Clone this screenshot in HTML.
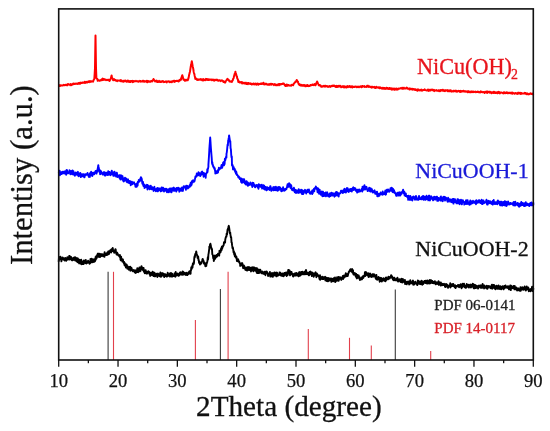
<!DOCTYPE html>
<html><head><meta charset="utf-8"><style>
html,body{margin:0;padding:0;background:#fff;width:550px;height:431px;overflow:hidden}
svg{display:block}
text{font-family:"Liberation Serif","Times New Roman",serif}
.b{stroke-width:0.3}
</style></head><body>
<svg width="550" height="431" viewBox="0 0 550 431">
<rect width="550" height="431" fill="#fff"/>
<g stroke="#3a3a3a" stroke-width="1.1"><line x1="108.1" y1="271.8" x2="108.1" y2="360.0"/><line x1="220.4" y1="289" x2="220.4" y2="360.0"/><line x1="395.3" y1="289.5" x2="395.3" y2="360.0"/></g>
<g stroke="#e2404c" stroke-width="1.1"><line x1="113.5" y1="271.8" x2="113.5" y2="360.0"/><line x1="195.4" y1="320.1" x2="195.4" y2="360.0"/><line x1="228.1" y1="271.8" x2="228.1" y2="360.0"/><line x1="308.3" y1="329.1" x2="308.3" y2="360.0"/><line x1="349.5" y1="337.8" x2="349.5" y2="360.0"/><line x1="371.3" y1="345.5" x2="371.3" y2="360.0"/><line x1="430.7" y1="350.9" x2="430.7" y2="360.0"/></g>
<polyline fill="none" stroke="#ff0000" stroke-width="2.0" stroke-linejoin="round" points="58.7,85.8 59.1,86.0 59.5,85.8 59.9,85.1 60.3,85.9 60.7,85.7 61.1,85.2 61.5,85.6 61.9,85.5 62.3,85.5 62.7,85.3 63.1,85.5 63.5,84.9 63.9,85.1 64.3,84.9 64.7,85.3 65.1,85.1 65.5,84.9 65.6,84.7 65.9,84.9 66.3,84.9 66.7,84.8 67.1,85.4 67.5,85.2 67.9,84.0 68.3,84.0 68.7,84.6 69.1,84.5 69.5,84.7 69.9,84.6 70.3,85.2 70.7,84.0 71.1,84.3 71.5,85.1 71.9,84.6 72.3,84.6 72.7,84.1 73.1,83.6 73.3,84.3 73.5,84.2 73.9,83.6 74.3,83.8 74.7,84.0 75.1,83.6 75.5,83.8 75.9,83.9 76.3,83.8 76.7,83.5 77.1,83.9 77.5,83.9 77.9,83.7 78.3,83.1 78.7,83.7 79.1,83.2 79.5,83.7 79.9,82.8 80.3,83.6 80.7,83.1 80.9,82.6 81.1,82.9 81.5,83.0 81.9,83.1 82.3,82.5 82.7,82.4 83.1,82.8 83.5,82.5 83.9,82.7 84.3,82.9 84.7,81.8 85.1,82.5 85.5,82.9 85.9,82.2 86.3,81.9 86.7,82.5 87.1,82.2 87.5,82.4 87.9,81.9 88.3,81.3 88.5,81.9 88.7,81.7 89.1,82.1 89.5,81.8 89.9,81.0 90.3,81.1 90.7,81.9 91.1,81.8 91.5,81.2 91.9,81.4 92.3,81.5 92.7,81.4 93.1,81.6 93.1,81.3 93.5,80.3 93.9,79.4 94.3,79.0 94.4,78.0 94.7,73.2 95.0,68.0 95.1,61.3 95.5,35.5 95.5,35.5 95.9,61.6 96.0,68.0 96.3,75.6 96.4,78.3 96.7,78.6 97.1,78.8 97.5,79.2 97.7,80.8 97.9,80.1 98.3,80.0 98.7,80.4 99.1,80.3 99.5,80.8 99.9,80.6 100.0,80.6 100.3,80.2 100.7,80.5 101.1,79.7 101.5,80.2 101.9,80.3 102.3,78.9 102.7,78.6 103.0,79.4 103.1,79.9 103.5,78.9 103.9,78.9 104.3,79.8 104.7,79.3 105.1,79.6 105.5,79.7 105.9,80.2 106.0,79.8 106.3,80.1 106.7,80.0 107.1,79.8 107.5,80.0 107.9,79.8 108.3,80.2 108.7,79.8 109.1,79.9 109.5,81.0 109.8,80.4 109.9,80.2 110.3,79.6 110.7,78.6 110.8,78.5 111.1,77.4 111.5,75.8 111.6,75.4 111.9,76.6 112.3,78.0 112.4,78.3 112.7,78.7 113.1,79.4 113.1,80.3 113.5,79.2 113.9,79.9 114.3,79.2 114.7,80.0 115.1,80.4 115.5,80.1 115.9,80.0 116.3,80.5 116.4,80.7 116.7,80.7 117.1,81.2 117.5,80.6 117.9,80.3 118.3,80.5 118.7,80.6 119.1,80.7 119.5,80.7 119.9,80.8 120.3,80.1 120.7,81.2 121.1,80.6 121.5,80.4 121.9,81.2 122.3,81.5 122.7,81.2 123.1,81.1 123.5,80.7 123.5,81.8 123.9,81.5 124.3,80.7 124.7,80.8 125.1,81.2 125.5,80.6 125.9,81.3 126.3,81.0 126.7,81.7 127.1,81.7 127.5,80.6 127.9,81.3 128.3,80.7 128.7,81.8 129.1,81.4 129.5,81.6 129.9,81.0 130.0,82.1 130.3,82.1 130.7,81.0 131.1,81.5 131.5,81.1 131.9,81.4 132.3,80.9 132.7,82.1 133.1,81.0 133.5,81.3 133.9,81.6 134.3,81.1 134.7,81.3 135.1,81.2 135.5,81.3 135.9,80.9 136.3,81.2 136.7,81.3 137.1,81.3 137.5,81.4 137.9,81.3 138.3,81.7 138.7,81.3 139.1,81.3 139.5,81.1 139.9,81.2 140.0,80.9 140.3,81.6 140.7,81.0 141.1,81.1 141.5,81.6 141.9,81.6 142.3,81.3 142.7,80.7 143.1,81.6 143.5,81.6 143.9,80.9 144.3,81.8 144.7,81.2 145.1,81.1 145.5,81.5 145.9,81.4 146.3,81.6 146.7,80.9 147.1,82.3 147.5,81.3 147.9,80.9 148.3,81.8 148.7,81.4 149.1,81.7 149.5,81.5 149.9,81.6 150.0,81.7 150.3,81.2 150.7,81.7 151.1,81.2 151.5,81.0 151.9,81.3 152.2,81.4 152.3,81.0 152.7,80.2 153.1,80.3 153.5,78.9 153.5,79.2 153.9,80.0 154.3,79.9 154.7,80.9 155.0,81.2 155.1,81.6 155.5,80.9 155.9,81.0 156.3,81.5 156.7,80.6 157.1,82.1 157.5,81.2 157.9,81.2 158.3,81.9 158.7,81.6 159.1,80.9 159.5,81.9 159.9,82.0 160.0,81.5 160.3,81.6 160.7,81.9 161.1,81.3 161.5,81.9 161.9,81.8 162.3,81.4 162.7,81.1 163.1,81.6 163.5,81.3 163.9,82.1 164.3,81.7 164.7,82.0 165.1,81.7 165.5,81.8 165.9,81.3 166.3,81.9 166.7,82.4 167.1,81.5 167.5,81.4 167.9,81.6 168.3,81.4 168.7,81.3 169.1,81.7 169.5,81.5 169.9,82.2 170.3,81.6 170.7,81.7 171.1,82.0 171.5,81.5 171.9,82.2 172.0,81.3 172.3,81.3 172.7,81.4 173.1,81.5 173.5,80.9 173.9,81.4 174.3,80.7 174.7,81.9 175.1,81.3 175.5,81.0 175.5,80.9 175.9,81.1 176.3,81.1 176.7,80.7 177.1,80.7 177.5,81.0 177.9,80.8 178.3,81.4 178.7,81.4 179.0,80.9 179.1,81.0 179.5,79.9 179.9,80.4 180.3,79.8 180.7,79.6 181.0,79.8 181.1,78.3 181.5,77.7 181.9,76.3 182.3,75.2 182.3,75.2 182.7,76.6 183.1,78.2 183.5,79.8 183.5,79.6 183.9,79.5 184.3,79.8 184.7,80.6 184.9,80.3 185.1,79.6 185.5,80.6 185.9,80.3 186.3,80.5 186.7,79.9 187.1,80.3 187.5,79.5 187.9,80.1 188.0,79.7 188.3,78.9 188.7,77.3 189.1,74.9 189.5,73.4 189.7,72.6 189.9,72.0 190.3,69.6 190.7,66.8 191.1,65.1 191.5,62.9 191.8,61.2 191.9,61.7 192.3,63.9 192.7,66.5 193.1,68.0 193.5,70.2 193.6,71.4 193.9,72.8 194.3,73.8 194.7,75.9 195.1,77.4 195.3,78.8 195.5,78.3 195.9,79.0 196.3,78.6 196.7,79.1 197.1,79.5 197.1,80.0 197.5,79.8 197.9,79.2 198.3,79.8 198.7,79.9 199.1,79.6 199.5,79.5 199.9,79.6 200.3,79.0 200.7,79.8 201.1,79.8 201.5,79.4 201.9,80.1 202.0,79.3 202.3,79.6 202.7,79.6 203.1,80.5 203.5,79.1 203.9,80.0 204.3,80.1 204.7,79.8 205.1,80.2 205.5,79.3 205.9,78.9 206.3,79.9 206.7,79.1 207.1,79.5 207.5,79.1 207.9,80.0 208.3,79.9 208.7,79.3 209.1,79.9 209.5,79.6 209.9,79.4 210.0,79.5 210.3,79.4 210.7,79.8 211.1,79.7 211.5,79.5 211.9,80.1 212.3,79.5 212.7,79.9 213.1,79.9 213.5,80.4 213.9,79.6 214.3,80.6 214.7,80.0 215.1,79.9 215.5,79.7 215.9,80.3 216.3,80.1 216.7,79.6 217.1,79.7 217.5,79.9 217.9,79.9 218.0,80.6 218.3,80.8 218.7,80.6 219.1,80.4 219.5,80.2 219.9,80.4 220.3,80.7 220.7,81.1 221.1,80.8 221.5,80.4 221.6,80.5 221.9,80.4 222.3,80.5 222.7,80.9 223.1,81.2 223.5,82.0 223.9,81.4 224.3,82.1 224.7,82.4 225.1,81.9 225.2,82.5 225.5,81.8 225.9,80.8 226.3,80.6 226.7,79.9 227.1,79.3 227.4,78.9 227.5,79.2 227.9,79.7 228.3,79.6 228.7,80.4 229.1,80.3 229.5,81.4 229.5,81.5 229.9,81.4 230.3,81.5 230.7,81.7 231.1,81.2 231.5,81.5 231.9,81.8 231.9,82.0 232.3,80.8 232.7,80.5 233.1,78.8 233.5,78.3 233.7,77.9 233.9,76.7 234.3,75.2 234.7,73.9 235.1,72.8 235.4,71.8 235.5,72.2 235.9,73.6 236.3,74.9 236.7,76.5 237.0,76.7 237.1,77.8 237.5,78.9 237.9,79.5 238.3,81.9 238.5,81.2 238.7,81.4 239.1,81.5 239.5,82.5 239.9,81.8 240.3,82.6 240.7,82.6 241.1,82.6 241.5,82.1 241.9,82.5 242.1,83.5 242.3,82.3 242.7,82.5 243.1,82.9 243.5,83.3 243.9,83.1 244.3,83.4 244.7,82.7 245.1,83.6 245.5,83.5 245.9,82.7 246.3,84.0 246.7,84.1 247.1,83.2 247.5,83.6 247.9,84.1 248.0,83.0 248.3,82.9 248.7,83.1 249.1,83.4 249.5,83.5 249.9,84.0 250.3,83.8 250.7,83.3 251.1,84.0 251.5,84.5 251.9,84.3 252.3,84.3 252.7,83.9 253.1,84.3 253.5,83.5 253.9,84.3 254.3,83.9 254.7,84.5 255.1,84.2 255.5,83.6 255.9,84.1 256.3,84.6 256.7,83.7 257.1,83.9 257.5,83.9 257.9,83.6 258.0,84.6 258.3,84.7 258.7,84.4 259.1,84.1 259.5,83.9 259.9,84.0 260.3,83.5 260.7,84.1 261.1,84.1 261.5,84.0 261.9,83.3 262.3,83.5 262.7,83.3 263.1,84.0 263.2,83.4 263.5,82.7 263.9,83.7 264.3,84.4 264.7,84.1 265.1,84.3 265.5,84.1 265.9,83.5 266.0,83.6 266.3,83.8 266.7,84.3 267.1,84.5 267.5,84.7 267.9,84.3 268.3,84.8 268.7,84.3 269.1,84.2 269.5,84.8 269.9,84.1 270.3,83.8 270.7,84.1 271.1,84.6 271.5,83.9 271.9,84.5 272.0,84.5 272.3,84.0 272.7,84.0 273.1,84.4 273.5,84.4 273.9,85.1 274.3,84.7 274.7,84.0 275.1,84.3 275.5,84.9 275.9,85.3 276.3,84.8 276.7,84.7 277.1,85.3 277.5,84.6 277.9,84.5 278.3,84.0 278.7,84.4 279.1,85.3 279.5,84.0 279.9,84.6 280.0,84.0 280.3,84.5 280.7,84.6 281.1,84.0 281.5,84.2 281.9,84.0 282.3,83.7 282.7,84.0 282.8,83.6 283.1,83.4 283.5,83.5 283.9,83.7 284.3,84.5 284.7,84.5 285.1,85.6 285.5,85.9 285.5,85.1 285.9,85.1 286.3,85.9 286.7,84.5 287.1,85.1 287.5,85.6 287.9,84.9 288.3,85.1 288.7,85.1 289.1,85.6 289.5,85.4 289.9,85.5 290.3,85.6 290.7,85.4 291.1,85.8 291.5,85.1 291.9,84.8 292.3,84.7 292.6,84.8 292.7,85.1 293.1,85.2 293.5,84.4 293.9,83.6 294.3,83.0 294.7,82.7 295.1,82.3 295.5,81.8 295.5,81.4 295.9,81.4 296.3,81.5 296.7,80.0 296.7,80.6 297.1,80.5 297.5,81.9 297.9,82.1 298.0,81.8 298.3,83.0 298.7,84.2 299.1,84.1 299.5,85.1 299.9,85.1 300.0,84.6 300.3,85.5 300.7,85.2 301.1,84.8 301.5,85.7 301.9,85.5 302.3,85.2 302.7,85.8 303.1,85.1 303.5,85.7 303.9,85.1 304.3,85.7 304.7,85.1 305.1,86.2 305.5,85.7 305.9,86.2 306.3,85.3 306.7,85.4 307.1,86.0 307.5,85.0 307.9,85.3 308.3,86.1 308.7,85.9 309.1,86.1 309.5,85.7 309.9,86.0 310.0,85.5 310.3,85.2 310.7,85.0 311.1,85.3 311.5,85.2 311.9,85.1 312.3,84.5 312.7,84.4 313.1,84.9 313.5,85.1 313.9,84.6 314.3,84.4 314.7,84.0 315.1,85.3 315.5,84.1 315.5,85.2 315.9,84.5 316.3,83.3 316.7,82.3 317.1,82.0 317.1,81.4 317.5,82.7 317.9,83.2 318.3,84.1 318.7,84.9 318.7,85.2 319.1,84.7 319.5,85.5 319.9,85.1 320.3,85.4 320.7,85.8 321.0,85.9 321.1,86.7 321.5,86.7 321.9,86.8 322.3,86.3 322.7,86.4 323.1,86.1 323.5,85.9 323.9,86.5 324.3,86.5 324.7,85.9 325.1,86.6 325.5,85.7 325.9,86.3 326.3,86.2 326.7,86.2 327.1,86.0 327.5,86.8 327.9,86.7 328.3,86.9 328.7,86.5 329.1,86.0 329.5,86.3 329.9,86.0 330.0,86.7 330.3,86.9 330.7,86.5 331.1,86.1 331.5,86.1 331.9,86.2 332.3,85.5 332.7,86.1 333.1,86.0 333.5,85.6 333.8,85.6 333.9,85.9 334.3,85.6 334.7,85.7 335.1,86.4 335.5,86.3 335.9,87.0 336.3,86.0 336.7,85.8 337.0,87.0 337.1,87.0 337.5,86.3 337.9,86.0 338.3,86.6 338.7,85.9 339.1,86.5 339.5,85.9 339.9,86.5 340.3,85.9 340.7,86.6 341.1,87.3 341.5,86.6 341.9,87.0 342.3,86.4 342.7,86.3 343.1,86.1 343.5,87.1 343.9,86.7 344.3,87.4 344.7,86.2 345.1,86.6 345.5,86.8 345.9,87.3 346.3,87.5 346.7,86.5 347.1,86.3 347.5,86.1 347.9,87.3 348.3,86.7 348.7,86.5 349.1,86.8 349.5,86.1 349.9,86.1 350.3,87.2 350.7,87.0 351.1,86.9 351.5,86.4 351.9,87.1 352.3,87.5 352.7,86.4 353.1,86.9 353.5,86.7 353.9,87.0 354.3,86.9 354.7,86.8 355.0,86.5 355.1,86.9 355.5,86.6 355.9,86.8 356.3,86.8 356.7,87.1 357.1,86.6 357.5,86.7 357.9,87.2 358.3,86.7 358.7,86.6 359.1,87.1 359.5,86.8 359.9,86.7 360.3,86.8 360.7,86.2 361.1,86.8 361.5,87.2 361.9,86.8 362.3,86.0 362.7,86.7 363.1,86.2 363.5,86.5 363.9,86.6 364.3,86.0 364.7,87.0 365.1,86.5 365.5,86.8 365.9,86.7 366.3,87.0 366.7,86.9 367.1,85.8 367.5,86.4 367.9,85.7 368.0,86.2 368.3,86.7 368.7,86.8 369.1,87.0 369.5,86.4 369.9,86.7 370.3,86.7 370.7,87.2 371.1,87.4 371.5,86.7 371.9,87.6 372.3,86.9 372.7,86.8 373.1,87.2 373.5,87.3 373.9,87.3 374.3,86.9 374.7,87.8 375.1,87.2 375.5,87.9 375.9,87.9 376.3,86.8 376.7,87.0 377.1,87.1 377.5,87.6 377.9,87.6 378.3,87.7 378.7,87.3 379.1,87.9 379.5,88.3 379.9,87.2 380.0,87.7 380.3,87.9 380.7,87.8 381.1,87.8 381.5,88.6 381.9,88.5 382.3,88.4 382.7,87.7 383.1,88.8 383.5,88.3 383.9,87.9 384.3,88.1 384.7,88.1 385.1,89.0 385.5,88.4 385.9,88.4 386.3,87.7 386.7,88.7 387.1,88.1 387.5,88.1 387.9,88.8 388.3,88.3 388.7,89.0 389.1,89.1 389.5,88.0 389.9,88.7 390.3,88.2 390.7,88.8 391.1,89.2 391.5,88.4 391.9,89.7 392.3,88.9 392.7,88.5 393.1,89.0 393.5,89.4 393.9,88.6 394.3,89.2 394.5,88.6 394.7,89.7 395.1,89.2 395.5,88.9 395.9,89.5 396.3,88.5 396.7,88.8 397.1,89.7 397.5,88.8 397.9,89.4 398.3,88.9 398.7,88.5 399.1,88.6 399.5,88.7 399.9,88.5 400.3,88.3 400.7,88.3 401.1,87.9 401.5,88.5 401.9,88.6 402.3,88.7 402.7,87.7 403.1,88.7 403.5,88.3 403.9,87.7 404.3,88.3 404.7,88.5 405.1,88.3 405.5,88.4 405.5,88.5 405.9,88.5 406.3,88.2 406.7,87.6 407.1,88.1 407.5,88.6 407.9,88.3 408.3,88.8 408.7,88.9 409.1,88.7 409.5,89.5 409.9,88.4 410.3,89.3 410.7,88.8 411.1,88.7 411.5,89.3 411.9,88.9 412.3,89.6 412.7,88.8 413.1,89.4 413.5,89.1 413.9,89.4 414.3,89.4 414.7,89.2 415.1,89.9 415.5,89.2 415.9,89.4 416.3,90.2 416.4,90.3 416.7,90.2 417.1,90.0 417.5,90.6 417.9,89.4 418.3,89.6 418.7,89.6 419.1,90.3 419.5,90.1 419.9,90.4 420.3,90.4 420.7,89.9 421.1,89.7 421.5,89.6 421.9,90.8 422.3,90.4 422.7,90.3 423.1,89.9 423.5,90.0 423.9,89.9 424.3,90.0 424.7,89.4 425.1,90.1 425.5,90.0 425.9,90.3 426.3,90.2 426.7,90.5 427.1,90.2 427.5,90.5 427.9,89.5 428.3,89.8 428.7,90.9 429.1,89.7 429.5,90.1 429.9,90.5 430.3,89.9 430.7,90.5 431.1,89.7 431.5,89.6 431.9,89.8 432.3,89.6 432.7,90.3 433.1,90.2 433.5,90.5 433.9,89.9 434.3,91.1 434.7,90.3 435.1,90.4 435.5,90.6 435.9,90.3 436.3,90.1 436.7,90.4 437.1,90.8 437.5,90.7 437.9,90.8 438.3,90.2 438.7,90.2 439.1,91.2 439.5,90.4 439.9,90.7 440.0,90.8 440.3,91.1 440.7,90.0 441.1,90.3 441.5,90.4 441.9,90.4 442.3,89.9 442.7,90.6 443.1,89.9 443.5,90.7 443.9,90.9 444.3,90.9 444.7,90.2 445.1,91.1 445.5,90.4 445.9,90.2 446.3,90.3 446.7,90.4 447.1,90.8 447.5,91.1 447.9,90.1 448.3,90.6 448.7,91.2 449.1,90.9 449.5,91.1 449.9,90.3 450.3,91.3 450.7,90.3 451.1,91.0 451.5,91.5 451.9,91.7 452.3,91.2 452.7,91.3 453.1,90.7 453.5,90.8 453.9,91.5 454.3,91.0 454.7,91.0 455.1,90.5 455.5,91.1 455.9,91.4 456.3,90.8 456.7,90.9 457.1,91.8 457.5,91.2 457.9,91.1 458.3,90.7 458.7,91.0 459.1,91.1 459.5,91.8 459.9,91.0 460.3,92.0 460.7,90.9 461.1,91.1 461.5,91.6 461.9,91.2 462.3,91.0 462.7,91.3 463.1,91.5 463.5,90.7 463.9,91.3 464.3,91.4 464.7,91.3 465.1,91.7 465.5,91.2 465.9,91.3 466.3,91.5 466.7,91.8 467.1,91.4 467.5,92.1 467.9,91.2 468.3,92.1 468.7,91.2 469.1,91.5 469.5,91.8 469.9,92.3 470.3,92.0 470.7,91.5 471.1,92.2 471.5,91.6 471.9,91.4 472.3,91.9 472.7,91.8 473.1,92.1 473.5,91.5 473.9,91.9 474.3,92.0 474.7,91.9 475.1,91.8 475.5,91.6 475.9,92.2 476.3,91.9 476.7,92.1 477.1,91.8 477.5,91.9 477.9,91.5 478.3,92.0 478.7,92.3 479.1,92.0 479.5,92.3 479.9,92.1 480.0,92.5 480.3,91.9 480.7,91.4 481.1,92.2 481.5,92.0 481.9,91.7 482.3,92.3 482.7,92.2 483.1,92.3 483.5,92.0 483.9,92.2 484.3,92.2 484.7,92.9 485.1,91.9 485.5,92.2 485.9,92.3 486.3,91.5 486.7,91.6 487.1,93.0 487.5,91.5 487.9,92.5 488.3,91.9 488.7,92.0 489.1,91.6 489.5,92.0 489.9,92.6 490.3,91.8 490.7,92.6 491.1,92.5 491.5,93.1 491.9,92.2 492.3,92.9 492.7,92.8 493.1,92.3 493.5,91.8 493.9,93.1 494.3,91.9 494.7,92.3 495.1,92.9 495.5,93.0 495.9,92.2 496.3,92.5 496.7,92.5 497.1,93.1 497.5,93.3 497.9,91.9 498.3,93.0 498.7,91.9 499.1,92.7 499.5,92.2 499.9,93.4 500.3,92.8 500.7,92.4 501.1,92.5 501.5,92.5 501.9,92.8 502.3,92.7 502.7,93.0 503.1,93.4 503.5,93.1 503.9,92.3 504.3,92.2 504.7,92.5 505.1,93.3 505.5,92.7 505.9,92.6 506.3,92.9 506.7,92.3 507.1,92.5 507.5,93.1 507.9,92.8 508.3,92.8 508.7,93.1 509.1,92.7 509.5,92.7 509.9,92.8 510.3,93.3 510.7,93.1 511.1,92.6 511.5,92.9 511.9,93.3 512.3,93.8 512.7,92.6 513.1,93.3 513.5,93.0 513.9,93.5 514.3,93.3 514.7,93.8 515.1,93.4 515.5,93.0 515.9,93.0 516.3,93.4 516.7,93.4 517.1,94.0 517.5,93.9 517.9,92.8 518.3,93.4 518.7,92.8 519.1,92.7 519.5,93.6 519.9,93.6 520.3,92.9 520.7,94.0 521.1,93.0 521.5,92.9 521.9,93.7 522.3,93.5 522.7,93.4 523.1,93.4 523.5,93.6 523.9,93.4 524.3,93.4 524.7,92.8 525.1,93.0 525.5,93.8 525.9,93.3 526.3,93.8 526.7,94.1 527.1,93.4 527.5,93.7 527.9,94.3 528.3,93.9 528.7,94.4 529.1,94.3 529.5,94.0 529.9,93.6 530.3,93.4 530.7,93.3 531.1,93.9 531.5,93.9 531.9,93.7 532.3,94.1 532.7,93.5 533.1,94.2 533.3,93.8"/>
<polyline fill="none" stroke="#0000ff" stroke-width="1.9" stroke-linejoin="round" points="58.7,173.2 59.0,172.3 59.3,172.4 59.6,170.6 59.9,175.2 60.2,174.4 60.5,172.4 60.8,173.8 61.1,173.2 61.4,172.1 61.7,174.0 62.0,172.3 62.3,172.3 62.6,171.7 62.9,173.3 63.2,172.5 63.5,173.3 63.8,171.8 64.1,172.7 64.4,171.4 64.7,173.6 65.0,172.7 65.0,172.9 65.3,173.0 65.6,171.1 65.9,173.4 66.2,174.7 66.5,170.1 66.8,170.0 67.1,170.2 67.4,173.2 67.7,172.2 68.0,173.4 68.3,172.9 68.6,172.2 68.9,172.3 69.2,171.6 69.5,172.9 69.5,170.3 69.8,171.3 70.1,172.3 70.4,174.4 70.7,171.2 71.0,170.9 71.3,171.6 71.6,173.7 71.9,172.2 72.2,174.4 72.5,170.4 72.8,174.3 73.1,174.3 73.4,171.2 73.7,173.3 74.0,174.8 74.3,173.4 74.6,174.7 74.9,175.8 75.0,173.9 75.2,173.2 75.5,172.6 75.8,174.5 76.1,173.5 76.4,173.6 76.7,173.7 77.0,174.8 77.3,172.6 77.6,172.1 77.9,171.8 78.2,175.8 78.5,174.4 78.8,176.3 79.1,174.4 79.4,173.5 79.7,175.2 80.0,174.5 80.3,173.0 80.6,173.6 80.9,177.1 81.2,175.3 81.5,175.5 81.8,174.7 82.1,174.2 82.4,176.3 82.7,175.1 83.0,174.3 83.3,175.2 83.6,174.2 83.9,175.7 84.0,177.0 84.2,174.4 84.5,177.3 84.8,174.5 85.1,175.5 85.4,174.2 85.7,174.9 86.0,175.2 86.3,174.6 86.6,174.2 86.9,174.1 87.2,173.9 87.5,172.9 87.8,174.5 88.1,175.3 88.4,175.9 88.7,175.6 89.0,177.0 89.3,175.0 89.6,174.0 89.9,176.9 90.0,173.1 90.2,175.7 90.5,173.1 90.8,174.7 91.1,171.8 91.4,175.2 91.7,173.8 92.0,172.6 92.3,176.0 92.6,174.7 92.9,173.7 93.2,172.6 93.5,173.4 93.8,173.1 94.1,174.2 94.4,174.2 94.7,172.2 95.0,172.3 95.3,172.2 95.6,171.0 95.6,172.0 95.9,172.4 96.2,173.1 96.5,173.6 96.8,170.5 97.1,171.8 97.3,170.6 97.4,171.8 97.7,168.7 98.0,167.1 98.3,165.2 98.3,165.2 98.6,167.0 98.9,168.5 99.2,170.7 99.3,169.6 99.5,171.9 99.8,170.4 100.1,174.2 100.4,172.0 100.6,174.0 100.7,170.8 101.0,173.3 101.3,171.8 101.6,172.4 101.9,173.2 102.2,172.9 102.5,173.8 102.8,174.6 103.1,174.6 103.4,173.8 103.7,172.2 104.0,173.1 104.3,174.0 104.6,172.1 104.8,175.5 104.9,174.2 105.2,174.1 105.5,175.5 105.8,175.1 106.1,174.4 106.4,172.7 106.7,174.4 107.0,174.3 107.3,172.6 107.6,175.0 107.9,174.3 108.2,171.2 108.5,173.6 108.6,171.8 108.8,174.9 109.1,174.4 109.4,171.9 109.7,172.1 110.0,173.4 110.3,172.9 110.6,175.2 110.9,174.1 111.2,172.8 111.5,173.8 111.8,170.7 112.1,173.4 112.3,174.1 112.4,172.8 112.7,172.3 113.0,174.1 113.3,175.8 113.6,173.9 113.9,172.3 114.2,175.8 114.5,171.7 114.8,174.8 115.1,173.6 115.4,175.7 115.7,173.5 116.0,176.5 116.3,175.3 116.6,172.8 116.9,172.8 117.2,174.9 117.5,177.1 117.8,175.8 117.8,175.7 118.1,175.5 118.4,176.9 118.7,176.6 119.0,176.7 119.3,175.2 119.6,178.2 119.9,178.6 120.2,175.3 120.5,179.5 120.8,178.3 121.1,176.9 121.4,175.4 121.7,178.8 122.0,178.8 122.3,177.5 122.5,176.1 122.6,179.9 122.9,177.9 123.2,178.2 123.5,181.3 123.8,181.5 124.1,180.6 124.4,179.0 124.7,180.6 125.0,177.6 125.3,180.2 125.6,179.3 125.9,178.8 126.2,178.6 126.5,181.5 126.8,181.1 127.1,181.4 127.1,182.3 127.4,180.3 127.7,179.9 128.0,179.3 128.3,181.4 128.6,182.9 128.9,181.9 129.2,183.1 129.5,180.9 129.8,181.9 130.1,181.7 130.4,181.2 130.7,185.3 131.0,184.3 131.3,182.3 131.6,182.5 131.7,183.4 131.9,181.7 132.2,184.3 132.5,182.1 132.8,183.4 133.1,182.7 133.4,183.5 133.7,182.5 134.0,182.3 134.3,183.2 134.6,183.7 134.9,184.3 135.2,184.9 135.5,186.9 135.5,186.0 135.8,184.5 136.1,185.8 136.4,183.9 136.7,186.7 137.0,185.5 137.3,183.0 137.5,185.7 137.6,185.6 137.9,181.6 138.2,182.4 138.5,182.2 138.8,180.0 139.1,180.4 139.4,180.0 139.5,181.6 139.7,180.8 140.0,181.0 140.3,178.6 140.6,178.3 140.9,177.2 140.9,177.2 141.2,177.8 141.5,178.1 141.8,179.3 142.1,181.6 142.4,183.8 142.5,182.8 142.7,183.1 143.0,182.0 143.3,185.7 143.6,186.1 143.9,184.2 144.2,185.5 144.5,184.9 144.5,188.1 144.8,186.8 145.1,186.3 145.4,187.0 145.7,187.2 146.0,186.2 146.3,185.2 146.6,185.2 146.9,184.7 147.2,187.7 147.5,189.5 147.8,185.1 148.1,187.6 148.4,188.0 148.7,186.3 149.0,187.9 149.3,186.3 149.6,189.4 149.9,187.2 150.0,188.1 150.2,188.9 150.5,187.5 150.8,185.8 151.1,187.5 151.4,189.3 151.7,188.2 152.0,188.7 152.3,187.1 152.6,188.7 152.9,189.5 153.2,188.7 153.5,191.0 153.8,188.5 154.1,187.5 154.4,186.8 154.7,190.4 155.0,188.9 155.3,190.4 155.6,189.7 155.9,191.3 156.2,190.9 156.5,188.8 156.8,189.7 157.1,190.8 157.4,187.9 157.7,191.4 158.0,191.2 158.3,190.9 158.6,189.5 158.9,190.2 159.0,188.3 159.2,189.9 159.5,189.0 159.8,189.9 160.1,189.2 160.4,190.2 160.7,191.4 161.0,188.1 161.3,191.1 161.6,187.5 161.9,187.5 162.2,189.7 162.5,189.9 162.8,190.5 163.1,187.7 163.4,189.8 163.7,190.1 164.0,191.5 164.3,189.8 164.6,190.6 164.9,188.7 165.2,189.7 165.5,189.4 165.8,190.9 166.1,188.7 166.4,188.9 166.7,190.7 167.0,192.3 167.3,190.5 167.6,190.4 167.9,189.5 168.2,191.4 168.5,190.7 168.8,192.3 169.1,190.4 169.4,188.8 169.7,189.3 170.0,188.7 170.3,188.4 170.6,191.7 170.9,191.1 171.2,188.4 171.5,192.4 171.8,190.4 172.1,188.8 172.4,190.6 172.7,190.0 173.0,189.1 173.3,187.8 173.6,190.1 173.6,190.5 173.9,187.7 174.2,190.8 174.5,190.8 174.8,189.4 175.1,190.1 175.4,189.5 175.7,188.8 176.0,189.4 176.3,191.6 176.6,187.9 176.9,190.0 177.2,189.9 177.5,188.7 177.8,189.1 178.1,187.8 178.1,188.5 178.4,189.6 178.7,189.9 179.0,188.2 179.3,191.7 179.6,188.5 179.9,189.4 180.2,188.9 180.5,188.6 180.8,190.7 181.1,188.4 181.4,190.7 181.7,190.3 182.0,187.4 182.3,190.1 182.6,187.8 182.9,191.0 183.2,188.0 183.5,187.3 183.8,186.1 184.1,186.7 184.4,187.5 184.7,186.9 185.0,186.6 185.3,187.2 185.6,187.8 185.9,189.9 186.2,185.7 186.5,187.2 186.8,186.6 187.1,185.8 187.4,186.0 187.7,186.4 187.8,188.5 188.0,187.2 188.3,186.5 188.6,187.8 188.9,187.1 189.2,186.2 189.5,186.8 189.8,185.0 189.9,186.8 190.1,186.2 190.4,184.4 190.7,182.8 191.0,185.7 191.3,183.3 191.6,184.9 191.9,181.1 191.9,183.0 192.2,181.1 192.5,181.8 192.8,182.4 193.1,180.1 193.4,180.8 193.7,180.9 194.0,180.6 194.3,181.1 194.3,181.6 194.6,180.7 194.9,179.4 195.2,177.9 195.5,176.3 195.8,176.2 196.1,175.8 196.4,176.7 196.7,174.7 196.8,173.4 197.0,175.8 197.3,173.9 197.6,173.8 197.9,174.5 198.2,175.3 198.5,172.3 198.8,173.1 199.1,174.8 199.4,174.0 199.7,173.3 200.0,173.7 200.3,176.1 200.6,173.6 200.8,175.1 200.9,175.0 201.2,172.8 201.5,173.3 201.6,171.9 201.8,171.9 202.1,171.5 202.4,174.4 202.7,173.1 203.0,173.2 203.3,172.7 203.6,176.8 203.9,175.8 204.1,174.8 204.2,174.2 204.5,173.3 204.8,175.9 205.1,176.1 205.4,174.1 205.7,177.7 205.7,177.2 206.0,174.0 206.3,173.7 206.6,172.9 206.9,172.8 207.2,171.5 207.3,169.3 207.5,172.2 207.8,168.9 208.1,168.4 208.4,166.6 208.4,164.7 208.7,160.4 209.0,155.8 209.3,150.6 209.3,149.9 209.6,145.5 209.9,141.7 210.2,137.5 210.2,137.5 210.5,141.7 210.8,146.9 211.0,149.3 211.1,150.6 211.4,154.3 211.7,157.9 212.0,163.1 212.3,164.3 212.3,162.2 212.6,165.0 212.9,164.8 213.2,166.9 213.5,166.3 213.8,167.1 214.1,168.1 214.4,168.8 214.7,168.1 215.0,170.3 215.3,172.0 215.3,173.6 215.6,171.4 215.9,171.2 216.2,172.2 216.5,172.0 216.8,173.2 217.1,171.7 217.4,170.7 217.7,172.3 218.0,172.4 218.3,169.6 218.6,170.3 218.9,167.7 219.2,169.2 219.4,168.5 219.5,169.2 219.8,168.4 220.1,168.5 220.4,168.1 220.7,168.5 221.0,167.8 221.3,166.3 221.6,165.0 221.9,167.9 222.2,167.7 222.5,164.9 222.8,165.8 223.1,162.7 223.4,162.3 223.7,163.5 224.0,165.4 224.3,161.7 224.3,162.0 224.6,164.1 224.9,158.6 225.2,160.6 225.5,159.3 225.8,157.3 226.1,156.7 226.4,157.7 226.5,153.5 226.7,153.0 227.0,150.7 227.3,147.7 227.6,144.5 227.9,145.5 228.0,143.2 228.2,140.3 228.5,139.2 228.8,137.7 229.1,135.5 229.1,135.5 229.4,137.4 229.7,139.4 230.0,141.4 230.3,143.4 230.3,141.1 230.6,148.3 230.9,149.3 231.2,154.3 231.5,157.3 231.8,157.8 231.8,156.4 232.0,165.6 232.1,164.5 232.4,165.0 232.7,165.1 233.0,169.4 233.3,167.5 233.6,167.1 233.6,168.3 233.9,167.8 234.2,169.9 234.5,169.5 234.8,169.1 235.1,171.7 235.4,170.4 235.7,172.6 236.0,173.7 236.1,171.7 236.3,171.8 236.6,173.5 236.9,175.0 237.2,174.4 237.5,175.2 237.8,175.6 238.1,176.6 238.4,177.6 238.5,176.1 238.7,176.6 239.0,177.6 239.3,177.0 239.6,178.3 239.9,179.1 240.2,178.7 240.5,178.3 240.8,178.4 241.1,182.0 241.4,181.1 241.7,178.8 241.7,179.2 242.0,182.8 242.3,182.6 242.6,180.9 242.9,182.4 243.2,179.2 243.5,181.3 243.8,182.4 244.1,179.2 244.4,180.7 244.7,182.9 245.0,183.5 245.3,181.4 245.6,182.7 245.9,184.6 246.2,182.2 246.5,181.1 246.6,182.8 246.8,182.5 247.1,184.8 247.4,183.4 247.7,182.3 248.0,185.8 248.3,182.9 248.6,184.3 248.9,184.6 249.2,184.9 249.5,184.2 249.8,184.8 250.1,184.1 250.4,182.5 250.7,184.1 251.0,184.3 251.3,184.4 251.6,184.9 251.9,184.0 252.2,186.7 252.3,187.0 252.5,182.7 252.8,185.1 253.1,184.3 253.4,182.9 253.7,185.9 254.0,184.6 254.3,185.0 254.6,184.7 254.9,187.0 255.2,187.3 255.5,186.1 255.8,186.7 256.1,185.7 256.4,186.1 256.7,185.0 257.0,186.1 257.3,185.2 257.6,186.7 257.9,187.4 258.0,186.7 258.2,187.9 258.5,188.8 258.8,184.1 259.1,186.6 259.4,185.9 259.7,186.1 260.0,185.0 260.3,186.9 260.6,186.6 260.9,186.1 261.2,186.7 261.5,186.3 261.8,184.8 262.1,188.6 262.4,186.9 262.7,186.2 263.0,187.9 263.3,186.7 263.6,185.3 263.9,188.8 264.2,185.6 264.5,187.5 264.5,188.0 264.8,189.6 265.1,189.4 265.4,188.1 265.7,186.9 266.0,187.4 266.3,189.4 266.6,190.4 266.9,188.8 267.2,187.3 267.5,189.5 267.8,187.7 268.1,187.7 268.4,187.9 268.7,189.0 269.0,188.7 269.3,189.6 269.6,190.0 269.9,189.1 270.2,186.1 270.5,186.3 270.8,188.7 271.1,188.4 271.4,190.9 271.7,188.5 271.8,188.4 272.0,189.8 272.3,190.0 272.6,188.4 272.9,189.3 273.2,187.3 273.5,187.6 273.8,190.4 274.1,187.0 274.4,190.1 274.7,189.8 275.0,189.9 275.3,190.2 275.6,189.7 275.9,186.7 276.2,187.8 276.5,188.3 276.5,190.3 276.8,187.7 277.1,188.2 277.4,188.7 277.7,190.9 278.0,187.3 278.3,187.4 278.6,190.0 278.9,186.9 279.2,189.7 279.5,188.7 279.8,187.2 280.1,188.8 280.4,188.0 280.7,189.6 281.0,189.8 281.3,191.3 281.6,189.4 281.9,189.5 282.2,188.7 282.5,189.4 282.8,190.8 283.1,187.1 283.4,190.3 283.7,188.8 284.0,189.6 284.3,190.0 284.6,190.7 284.9,189.9 285.2,189.1 285.3,190.0 285.5,189.3 285.8,188.7 286.1,188.8 286.4,189.3 286.7,187.9 287.0,187.5 287.3,185.3 287.4,186.6 287.6,184.1 287.9,186.9 288.2,184.2 288.5,186.5 288.8,186.7 289.1,183.3 289.1,185.5 289.4,184.8 289.7,184.1 290.0,184.2 290.3,186.5 290.6,188.1 290.9,187.2 291.2,185.3 291.3,186.0 291.5,187.3 291.8,189.7 292.1,188.6 292.4,189.0 292.7,190.4 293.0,188.9 293.3,189.3 293.6,189.5 293.9,187.8 294.2,191.0 294.5,191.2 294.8,192.3 295.1,189.8 295.1,190.2 295.4,192.5 295.7,191.8 296.0,193.1 296.3,190.3 296.6,191.7 296.9,190.5 297.2,191.8 297.5,190.8 297.8,192.2 298.1,192.9 298.4,192.4 298.7,189.2 299.0,192.8 299.3,192.2 299.6,190.2 299.9,190.5 300.2,191.6 300.5,192.4 300.8,191.1 301.1,189.6 301.4,192.1 301.7,192.0 302.0,194.1 302.3,190.1 302.6,194.1 302.7,194.1 302.9,192.2 303.2,194.0 303.5,191.9 303.8,193.1 304.1,190.8 304.4,191.9 304.7,190.5 305.0,189.8 305.3,191.4 305.6,190.9 305.9,192.5 306.2,193.5 306.5,191.6 306.8,191.9 307.1,192.0 307.4,189.6 307.7,192.1 308.0,191.8 308.3,191.7 308.6,190.4 308.9,189.5 309.2,191.5 309.5,192.2 309.8,193.5 310.1,193.3 310.4,193.7 310.7,192.3 311.0,193.3 311.3,191.5 311.6,192.6 311.9,193.0 312.2,194.1 312.5,192.1 312.5,190.1 312.8,193.2 313.1,190.0 313.4,190.6 313.7,189.9 314.0,188.7 314.3,191.2 314.3,190.3 314.6,188.3 314.9,188.8 315.2,187.7 315.5,188.7 315.8,187.0 315.8,186.5 316.1,187.1 316.4,187.7 316.7,189.1 317.0,187.9 317.3,189.4 317.3,190.1 317.6,192.3 317.9,191.5 318.2,188.5 318.5,190.6 318.5,190.8 318.8,191.9 319.1,193.8 319.4,192.9 319.7,189.8 320.0,192.8 320.3,192.7 320.6,193.3 320.9,194.8 321.2,191.8 321.5,194.9 321.8,191.5 322.1,193.9 322.3,194.5 322.4,196.3 322.7,193.1 323.0,191.8 323.3,195.0 323.6,193.2 323.9,196.1 324.2,193.2 324.5,193.0 324.8,195.8 325.1,194.3 325.4,195.5 325.7,192.4 326.0,196.4 326.3,193.5 326.6,195.3 326.9,193.0 327.2,192.3 327.5,194.0 327.8,194.6 328.1,196.4 328.4,194.9 328.7,195.3 329.0,195.3 329.3,196.8 329.6,193.4 329.9,196.1 330.0,194.3 330.2,194.8 330.5,193.8 330.8,196.0 331.1,192.8 331.4,192.7 331.7,194.2 332.0,192.9 332.3,195.3 332.6,195.6 332.9,193.4 333.2,195.4 333.5,193.5 333.8,194.3 334.1,194.4 334.4,196.7 334.7,194.3 335.0,193.1 335.3,193.1 335.6,195.9 335.9,192.1 336.2,193.7 336.5,193.8 336.8,191.9 337.1,193.6 337.4,195.5 337.7,194.5 338.0,193.1 338.3,195.1 338.6,194.9 338.7,196.5 338.9,193.1 339.2,193.4 339.5,193.8 339.8,193.4 340.1,193.5 340.4,193.1 340.7,192.2 341.0,190.8 341.3,192.0 341.6,190.8 341.9,191.1 342.2,191.6 342.5,192.8 342.8,193.0 343.1,190.4 343.4,192.0 343.7,192.5 344.0,191.2 344.3,189.0 344.5,188.7 344.6,192.0 344.9,192.1 345.2,191.2 345.5,189.4 345.8,192.5 346.1,192.2 346.4,190.4 346.7,190.1 347.0,188.0 347.3,191.3 347.6,188.1 347.9,191.0 348.2,191.0 348.5,190.1 348.8,192.0 349.1,189.4 349.4,190.5 349.7,190.7 350.0,189.9 350.3,189.0 350.6,191.1 350.9,189.9 351.2,189.1 351.5,189.0 351.8,189.3 351.8,191.5 352.1,189.4 352.4,189.0 352.7,188.1 353.0,187.9 353.3,187.3 353.6,190.0 353.9,189.8 354.2,188.6 354.5,188.0 354.8,189.6 355.1,189.5 355.4,188.5 355.7,190.7 356.0,190.6 356.3,190.5 356.6,191.6 356.9,189.9 357.2,192.6 357.5,189.6 357.8,191.6 358.1,191.9 358.4,190.8 358.7,191.7 359.0,189.7 359.1,189.4 359.3,191.0 359.6,190.1 359.9,191.6 360.2,190.6 360.5,191.2 360.8,190.6 361.1,190.2 361.4,189.9 361.7,189.0 362.0,188.7 362.3,191.5 362.5,186.7 362.6,188.6 362.9,189.9 363.2,188.9 363.5,189.9 363.8,188.5 364.1,185.9 364.4,186.8 364.5,185.3 364.7,188.6 365.0,189.5 365.3,187.3 365.6,188.8 365.9,187.9 366.2,186.8 366.5,188.4 366.5,186.9 366.8,188.3 367.1,189.4 367.4,190.2 367.7,191.1 368.0,189.1 368.3,189.9 368.6,190.3 368.9,190.6 369.2,187.7 369.5,189.1 369.8,191.2 370.1,188.9 370.4,190.7 370.7,191.6 370.7,188.3 371.0,190.4 371.3,191.1 371.6,191.0 371.9,189.1 372.2,191.7 372.5,190.7 372.8,192.6 373.1,192.2 373.4,191.1 373.7,192.2 374.0,191.2 374.3,191.3 374.6,190.3 374.9,192.2 375.2,193.7 375.5,192.9 375.8,192.9 376.1,192.3 376.4,192.5 376.7,194.3 377.0,191.6 377.3,196.1 377.6,193.7 377.9,196.4 378.2,195.6 378.5,193.7 378.8,195.3 379.1,194.8 379.4,195.2 379.5,195.7 379.7,193.9 380.0,193.7 380.3,193.8 380.6,192.5 380.9,193.8 381.2,194.4 381.5,194.3 381.8,194.1 382.1,193.2 382.4,194.7 382.7,191.4 383.0,192.9 383.3,192.9 383.6,194.4 383.9,194.0 384.2,194.1 384.5,192.9 384.8,194.0 385.1,191.4 385.3,192.7 385.4,190.4 385.7,194.7 386.0,194.4 386.3,191.4 386.6,190.9 386.9,189.7 387.2,189.8 387.5,191.8 387.8,191.3 388.1,189.4 388.4,190.6 388.7,190.2 389.0,191.6 389.3,191.7 389.6,190.4 389.9,190.7 390.2,190.4 390.5,188.1 390.8,190.4 391.1,189.9 391.4,190.9 391.7,187.6 391.8,190.7 392.0,189.0 392.3,190.5 392.6,192.0 392.9,188.7 393.2,189.2 393.5,192.4 393.8,189.9 394.1,190.4 394.4,192.7 394.7,191.9 395.0,193.4 395.3,193.1 395.6,192.9 395.9,194.5 396.2,195.9 396.5,193.6 396.8,195.9 396.9,195.5 397.1,194.2 397.4,194.6 397.7,192.8 398.0,193.2 398.3,194.4 398.6,194.0 398.9,195.7 399.2,192.3 399.5,193.6 399.8,193.2 400.1,193.8 400.4,195.5 400.5,192.5 400.7,194.9 401.0,192.6 401.3,192.6 401.6,193.9 401.9,191.9 402.2,192.7 402.5,191.6 402.7,191.0 402.8,190.9 403.1,189.6 403.4,191.3 403.7,192.9 404.0,193.4 404.3,191.6 404.6,195.3 404.9,195.2 405.2,193.2 405.5,193.9 405.6,196.1 405.8,193.4 406.1,194.8 406.4,196.0 406.7,196.1 407.0,196.4 407.3,197.2 407.6,195.9 407.9,196.5 408.2,199.8 408.5,195.7 408.8,197.2 409.1,198.2 409.3,197.3 409.4,199.7 409.7,198.2 410.0,199.1 410.3,195.9 410.6,199.7 410.9,199.6 411.2,197.1 411.5,199.8 411.8,198.5 412.1,199.3 412.4,200.5 412.7,198.2 413.0,196.8 413.3,198.1 413.6,196.4 413.9,197.1 414.2,197.1 414.5,197.2 414.8,199.6 415.1,199.2 415.4,196.9 415.7,199.6 416.0,195.9 416.3,197.2 416.6,197.9 416.9,199.6 417.2,199.0 417.5,198.7 417.8,199.8 418.1,199.0 418.4,199.8 418.7,197.0 419.0,195.9 419.3,197.5 419.6,199.1 419.9,198.4 420.2,199.2 420.5,199.0 420.8,198.7 421.1,199.1 421.4,197.1 421.7,199.4 422.0,196.7 422.3,197.9 422.6,196.2 422.9,198.7 423.2,196.0 423.5,199.8 423.8,196.2 424.1,198.3 424.4,197.8 424.7,196.8 425.0,199.6 425.3,197.4 425.6,199.9 425.9,196.6 426.2,196.9 426.5,195.7 426.8,198.7 427.1,199.1 427.4,198.2 427.7,197.7 428.0,196.7 428.3,200.4 428.6,198.9 428.9,195.7 429.0,197.5 429.2,195.7 429.5,200.0 429.8,200.4 430.1,199.9 430.4,197.9 430.7,197.3 431.0,196.2 431.3,198.8 431.6,197.1 431.9,197.6 432.2,197.3 432.5,197.7 432.8,199.3 433.1,200.4 433.4,198.4 433.7,198.2 434.0,196.8 434.3,196.7 434.6,196.9 434.9,199.5 435.2,198.6 435.5,199.6 435.8,198.9 436.1,197.9 436.4,196.8 436.7,197.9 437.0,196.6 437.3,200.9 437.6,198.8 437.9,198.0 438.2,200.9 438.5,198.0 438.8,199.3 439.1,198.4 439.4,199.1 439.7,198.1 440.0,199.3 440.3,200.5 440.6,197.0 440.9,196.4 441.2,200.5 441.5,198.9 441.8,199.9 442.1,198.4 442.4,200.8 442.7,201.2 443.0,197.3 443.3,199.7 443.6,198.1 443.9,196.8 444.2,198.5 444.5,199.6 444.8,197.1 445.0,197.2 445.1,200.6 445.4,199.1 445.7,199.7 446.0,197.7 446.3,198.4 446.6,199.5 446.9,199.7 447.2,199.7 447.5,201.7 447.8,199.9 448.1,197.8 448.4,198.7 448.7,199.9 449.0,201.7 449.3,199.3 449.6,199.7 449.9,200.3 450.2,199.5 450.5,199.4 450.8,200.3 451.1,202.0 451.4,201.4 451.7,200.5 452.0,201.5 452.3,199.3 452.4,202.4 452.6,202.0 452.9,201.5 453.2,199.0 453.5,203.6 453.8,199.0 454.1,199.9 454.4,200.0 454.7,202.1 455.0,199.3 455.3,201.6 455.6,201.1 455.9,200.9 456.2,202.5 456.5,203.3 456.8,201.9 457.1,201.1 457.4,199.3 457.7,203.4 458.0,201.1 458.3,199.4 458.6,201.8 458.9,203.5 459.2,201.4 459.5,200.1 459.8,204.2 460.1,202.5 460.4,202.2 460.7,203.1 461.0,199.6 461.3,201.7 461.6,201.6 461.9,204.3 462.2,201.2 462.5,201.2 462.8,200.1 463.1,200.9 463.4,201.7 463.7,202.4 464.0,201.8 464.3,204.6 464.6,202.8 464.9,203.0 465.2,204.0 465.5,203.0 465.8,201.5 466.1,200.2 466.4,202.7 466.7,201.2 467.0,204.1 467.3,201.3 467.6,200.2 467.9,202.4 468.2,203.8 468.5,202.2 468.8,202.7 469.1,202.7 469.4,204.8 469.7,202.9 470.0,202.5 470.0,201.8 470.3,200.4 470.6,204.4 470.9,204.0 471.2,201.2 471.5,203.3 471.8,202.9 472.1,201.9 472.4,202.0 472.7,203.4 473.0,200.8 473.3,201.7 473.6,202.3 473.9,202.3 474.2,202.0 474.5,202.6 474.8,203.0 475.1,201.1 475.4,202.4 475.7,201.5 476.0,204.2 476.3,200.3 476.6,201.9 476.9,203.1 477.2,201.8 477.5,201.7 477.8,201.4 478.1,202.5 478.4,200.5 478.7,202.0 479.0,201.9 479.3,200.1 479.6,202.4 479.9,201.4 480.2,202.4 480.5,203.1 480.8,202.4 481.1,200.4 481.4,202.4 481.7,199.8 482.0,200.9 482.0,204.1 482.3,201.9 482.6,204.0 482.9,201.7 483.2,202.0 483.5,200.5 483.8,203.2 484.1,201.7 484.4,202.8 484.7,202.6 485.0,202.7 485.3,202.4 485.6,202.0 485.9,202.0 486.2,201.1 486.5,199.8 486.8,202.7 487.1,204.5 487.4,203.5 487.7,204.5 488.0,202.8 488.3,200.9 488.6,200.8 488.9,203.1 489.2,202.6 489.5,202.0 489.8,203.2 490.1,201.1 490.4,202.9 490.7,201.9 491.0,202.4 491.3,203.8 491.6,202.1 491.9,204.1 492.2,204.0 492.5,201.3 492.8,204.6 492.9,200.7 493.1,202.2 493.4,203.3 493.7,200.0 494.0,203.8 494.3,203.9 494.6,202.3 494.9,202.9 495.2,202.8 495.5,202.3 495.8,204.0 496.1,202.1 496.4,202.6 496.7,203.2 497.0,203.8 497.3,204.2 497.6,200.8 497.9,200.5 498.2,202.7 498.5,202.8 498.8,201.5 499.1,203.3 499.4,203.8 499.7,203.5 500.0,205.2 500.3,201.7 500.6,203.1 500.9,205.4 501.2,204.0 501.5,201.7 501.8,203.5 502.1,204.8 502.4,205.6 502.7,204.2 503.0,204.9 503.3,201.9 503.6,203.0 503.9,205.0 504.2,202.2 504.5,203.4 504.8,201.1 505.1,205.5 505.4,203.4 505.7,204.3 506.0,201.6 506.3,201.9 506.6,206.0 506.9,203.2 507.2,203.0 507.5,204.4 507.8,204.5 508.1,201.5 508.4,202.6 508.7,203.9 509.0,203.9 509.3,204.4 509.6,203.4 509.9,203.6 510.0,204.3 510.2,203.1 510.5,202.9 510.8,203.3 511.1,204.0 511.4,203.8 511.7,203.4 512.0,203.7 512.3,204.0 512.6,204.5 512.9,204.6 513.2,202.4 513.5,205.4 513.8,202.0 514.1,204.9 514.4,203.2 514.7,204.9 515.0,205.6 515.3,201.8 515.6,205.0 515.9,204.5 516.2,203.6 516.5,204.7 516.8,203.6 517.1,204.4 517.4,202.9 517.7,205.3 518.0,205.0 518.3,205.2 518.6,203.4 518.9,206.6 519.2,206.7 519.5,204.2 519.8,203.8 520.1,203.8 520.4,205.2 520.7,205.7 521.0,203.4 521.3,202.0 521.6,205.0 521.9,204.3 522.2,204.6 522.5,205.1 522.8,203.0 523.1,204.5 523.4,204.0 523.7,204.9 524.0,206.1 524.3,204.5 524.6,203.3 524.9,206.1 525.2,205.4 525.5,204.2 525.8,202.2 526.1,203.4 526.4,204.7 526.7,205.2 527.0,203.8 527.3,205.1 527.6,203.7 527.9,204.0 528.2,205.3 528.5,204.2 528.8,204.8 529.1,205.7 529.4,206.1 529.7,203.8 530.0,204.3 530.3,202.9 530.6,202.9 530.9,205.0 531.2,204.0 531.5,202.4 531.8,205.4 532.1,203.6 532.4,204.3 532.7,205.3 533.0,205.2 533.3,204.7 533.3,202.5"/>
<polyline fill="none" stroke="#000000" stroke-width="1.9" stroke-linejoin="round" points="58.7,261.7 59.0,257.0 59.3,259.9 59.6,258.5 59.9,258.6 60.2,258.9 60.5,256.8 60.8,258.8 61.1,257.9 61.4,261.3 61.7,259.2 62.0,258.4 62.3,258.5 62.6,257.9 62.6,257.4 62.9,258.3 63.2,259.4 63.5,258.4 63.8,259.9 64.1,258.4 64.4,258.7 64.7,260.6 65.0,259.3 65.3,257.9 65.6,258.3 65.9,259.2 66.2,260.8 66.5,258.1 66.8,258.1 67.1,259.7 67.4,257.2 67.7,258.0 68.0,259.5 68.3,259.1 68.6,258.4 68.9,259.1 69.2,255.9 69.5,259.5 69.5,257.0 69.8,256.1 70.1,258.7 70.4,259.3 70.7,257.8 71.0,257.0 71.3,258.5 71.6,258.5 71.9,260.4 72.2,259.6 72.5,258.9 72.8,260.2 73.1,258.5 73.3,257.6 73.4,259.6 73.7,259.7 74.0,258.8 74.3,258.2 74.6,259.7 74.9,257.2 75.2,260.5 75.5,260.4 75.8,257.8 76.1,260.1 76.4,258.9 76.7,261.3 77.0,258.1 77.1,259.3 77.3,261.5 77.6,262.2 77.9,258.4 78.2,260.2 78.5,261.4 78.8,260.3 79.1,263.3 79.4,259.8 79.7,261.9 80.0,260.2 80.3,263.5 80.6,261.7 80.9,261.4 81.2,259.7 81.5,264.3 81.8,263.2 82.1,263.3 82.4,263.9 82.4,262.9 82.7,261.5 83.0,261.3 83.3,261.3 83.6,264.1 83.9,260.4 84.2,261.5 84.5,261.8 84.8,262.5 85.1,262.9 85.4,260.5 85.7,259.9 86.0,262.1 86.3,263.6 86.6,263.0 86.9,262.3 87.0,261.6 87.2,262.3 87.5,261.6 87.8,262.9 88.1,260.7 88.4,261.9 88.7,261.5 89.0,262.3 89.3,261.8 89.6,263.8 89.9,263.3 90.2,263.2 90.5,258.9 90.8,260.7 91.1,260.3 91.4,261.7 91.7,258.6 92.0,262.4 92.3,262.2 92.4,259.1 92.6,259.4 92.9,259.4 93.2,260.3 93.5,260.8 93.8,262.1 94.1,259.3 94.4,260.3 94.7,259.3 95.0,261.2 95.3,259.6 95.4,260.4 95.6,256.9 95.9,257.5 96.2,256.2 96.5,258.7 96.8,257.0 97.1,255.3 97.4,254.6 97.6,255.4 97.7,253.9 98.0,253.5 98.3,255.2 98.5,256.8 98.6,254.3 98.9,254.2 99.2,253.7 99.5,253.8 99.8,256.5 100.0,257.1 100.1,256.2 100.2,256.7 100.4,256.4 100.7,256.3 101.0,254.0 101.3,255.3 101.6,255.9 101.9,254.6 102.2,254.9 102.5,254.3 102.8,254.8 103.1,256.3 103.4,254.5 103.7,254.7 104.0,255.9 104.3,255.5 104.5,256.8 104.6,252.2 104.9,255.5 105.2,253.5 105.5,254.1 105.8,254.8 106.1,255.0 106.4,254.7 106.7,253.4 107.0,255.1 107.3,252.4 107.6,252.4 107.9,253.4 108.2,251.5 108.5,254.3 108.8,253.1 109.1,253.9 109.4,251.4 109.4,250.9 109.7,251.4 110.0,252.0 110.3,250.1 110.6,251.2 110.9,250.5 111.2,252.5 111.5,249.3 111.8,251.4 112.1,249.0 112.4,248.4 112.7,248.6 112.7,248.0 113.0,249.9 113.3,251.3 113.6,250.3 113.9,251.2 114.2,252.7 114.5,251.1 114.8,251.2 115.1,250.8 115.4,249.3 115.4,252.4 115.7,249.5 116.0,253.0 116.3,252.6 116.6,254.5 116.9,253.3 117.2,252.7 117.5,254.7 117.8,253.9 118.1,254.7 118.4,255.4 118.7,255.6 119.0,255.9 119.3,255.5 119.6,256.7 119.9,255.0 120.2,257.6 120.3,256.3 120.5,259.7 120.8,260.3 121.1,256.7 121.4,259.7 121.7,259.8 122.0,259.1 122.3,261.5 122.6,260.7 122.9,259.4 123.2,261.8 123.5,262.4 123.8,263.2 124.1,261.9 124.4,264.8 124.7,265.4 124.7,262.9 125.0,263.8 125.3,264.7 125.6,264.3 125.9,267.5 126.2,265.7 126.5,264.4 126.8,264.9 127.1,266.0 127.4,268.7 127.7,266.3 128.0,266.9 128.3,267.6 128.6,267.1 128.9,269.7 129.2,266.9 129.5,268.8 129.8,268.2 130.1,269.0 130.2,266.8 130.4,270.7 130.7,268.4 131.0,268.8 131.3,267.7 131.6,268.1 131.9,269.9 132.2,270.6 132.5,270.5 132.8,271.2 133.1,270.7 133.4,270.0 133.7,271.2 134.0,271.1 134.3,270.3 134.6,271.5 134.9,272.4 135.0,271.1 135.2,270.3 135.5,271.7 135.8,273.0 136.1,270.4 136.4,270.5 136.7,270.4 137.0,272.1 137.3,268.1 137.6,270.9 137.9,271.9 138.2,269.3 138.3,272.2 138.5,270.8 138.8,269.2 139.1,269.9 139.4,267.4 139.7,268.5 140.0,271.3 140.3,267.6 140.6,270.9 140.9,268.2 141.0,269.5 141.2,268.4 141.5,266.2 141.8,268.1 142.1,269.3 142.4,267.8 142.7,267.8 143.0,270.2 143.3,269.1 143.6,268.0 143.7,269.4 143.9,271.6 144.2,270.1 144.5,272.2 144.8,273.2 145.1,271.5 145.4,270.2 145.7,270.2 146.0,272.1 146.3,273.6 146.6,273.0 146.9,273.6 147.0,272.4 147.2,273.4 147.5,272.5 147.8,272.7 148.1,271.5 148.4,271.2 148.7,272.7 149.0,271.9 149.3,272.1 149.6,274.3 149.9,273.3 150.2,275.9 150.5,274.8 150.8,272.8 151.1,274.7 151.4,274.2 151.7,272.9 152.0,275.2 152.3,272.9 152.6,271.6 152.9,275.0 153.2,273.2 153.5,276.0 153.8,273.3 154.1,272.6 154.4,276.2 154.7,272.9 155.0,274.6 155.3,276.2 155.6,274.6 155.9,274.3 156.2,274.6 156.5,275.6 156.8,273.6 156.8,275.4 157.1,275.4 157.4,277.0 157.7,274.2 158.0,273.5 158.3,275.6 158.6,274.1 158.9,275.1 159.2,274.9 159.5,276.2 159.8,273.9 160.1,274.6 160.4,272.4 160.7,273.6 161.0,276.8 161.3,273.9 161.6,273.9 161.9,273.2 162.2,275.6 162.5,275.0 162.8,273.3 163.1,275.7 163.4,275.2 163.7,275.8 164.0,274.0 164.3,277.1 164.6,275.4 164.9,274.7 165.2,274.2 165.5,274.6 165.8,276.0 166.1,274.6 166.4,276.4 166.7,275.7 167.0,276.7 167.3,276.0 167.6,274.9 167.7,272.7 167.9,275.4 168.2,276.0 168.5,275.1 168.8,275.6 169.1,274.3 169.4,274.4 169.7,273.6 170.0,276.6 170.3,275.0 170.6,274.1 170.9,273.0 171.2,274.5 171.5,276.6 171.8,275.3 172.1,273.7 172.4,276.5 172.7,276.4 173.0,275.8 173.3,275.6 173.6,276.0 173.9,275.2 174.2,275.5 174.5,273.4 174.8,276.4 175.1,274.7 175.4,276.7 175.7,272.0 176.0,275.2 176.3,275.6 176.6,273.8 176.9,274.8 177.2,275.2 177.5,274.9 177.8,273.5 178.1,274.0 178.4,275.4 178.6,275.8 178.7,274.2 179.0,274.2 179.3,274.3 179.6,275.4 179.9,272.6 180.2,272.3 180.5,274.1 180.8,272.5 181.1,273.2 181.4,274.0 181.7,274.5 182.0,272.5 182.3,274.9 182.6,271.5 182.9,274.5 183.2,271.7 183.5,272.1 183.8,274.6 184.1,273.2 184.4,272.7 184.7,273.1 185.0,274.3 185.3,273.6 185.6,273.6 185.9,275.0 186.2,272.6 186.5,272.9 186.8,272.9 187.1,275.0 187.3,274.8 187.4,275.1 187.7,273.2 188.0,272.9 188.3,274.0 188.6,272.2 188.9,273.6 189.2,273.2 189.5,271.2 189.8,271.8 190.1,271.6 190.4,273.8 190.6,273.7 190.7,271.0 191.0,270.4 191.3,267.3 191.6,269.1 191.9,268.1 192.2,265.9 192.5,267.6 192.8,263.8 193.1,264.7 193.4,264.4 193.5,262.4 193.7,264.0 194.0,262.7 194.3,257.9 194.6,256.3 194.9,257.2 195.0,256.0 195.2,254.2 195.5,253.9 195.8,253.0 196.1,251.9 196.2,251.5 196.4,252.3 196.7,254.0 197.0,255.2 197.3,256.0 197.5,257.2 197.6,257.9 197.9,258.1 198.2,256.5 198.5,260.1 198.8,260.0 199.1,262.9 199.4,261.8 199.5,262.7 199.7,262.6 200.0,264.5 200.3,262.8 200.6,262.4 200.9,263.4 201.2,262.7 201.3,263.5 201.5,262.7 201.8,261.9 202.1,261.7 202.4,259.7 202.7,258.9 202.7,258.9 203.0,260.0 203.3,260.2 203.6,261.2 203.9,262.6 204.0,263.6 204.2,263.1 204.5,262.8 204.8,262.7 205.1,264.8 205.4,266.3 205.7,265.1 206.0,265.2 206.3,265.9 206.4,264.2 206.6,264.1 206.9,262.7 207.2,262.1 207.5,260.3 207.8,257.3 208.0,259.5 208.1,259.4 208.4,254.6 208.7,253.1 209.0,250.6 209.3,248.7 209.3,246.6 209.6,247.9 209.9,245.4 210.2,244.6 210.4,243.6 210.5,244.1 210.8,245.5 211.1,247.6 211.4,247.8 211.5,248.6 211.7,249.4 212.0,249.0 212.3,254.3 212.6,254.7 212.9,255.3 213.2,258.2 213.5,256.8 213.7,258.8 213.8,261.0 214.1,259.8 214.4,255.9 214.7,255.6 215.0,256.3 215.3,258.7 215.6,256.4 215.9,256.4 216.2,257.2 216.5,254.9 216.8,256.1 217.1,256.5 217.4,255.8 217.7,255.4 218.0,253.8 218.3,255.0 218.6,253.4 218.9,255.4 219.2,255.7 219.4,252.2 219.5,250.6 219.8,251.8 220.1,252.2 220.4,252.4 220.7,251.8 221.0,248.8 221.3,248.1 221.6,250.1 221.9,246.4 222.2,248.6 222.5,246.3 222.8,246.9 223.1,246.2 223.4,245.6 223.7,245.1 224.0,242.1 224.3,243.1 224.6,242.1 224.9,241.8 225.1,242.6 225.2,240.2 225.5,238.4 225.8,237.2 226.1,236.5 226.4,236.7 226.7,233.4 227.0,234.7 227.3,232.4 227.3,231.7 227.6,229.4 227.9,229.7 228.2,228.6 228.5,226.6 228.8,225.8 228.8,225.8 229.1,227.5 229.4,229.3 229.7,232.1 230.0,233.6 230.3,232.8 230.3,234.0 230.6,235.7 230.9,237.5 231.2,237.2 231.5,242.4 231.8,242.5 232.1,245.4 232.4,246.8 232.4,248.1 232.7,247.5 233.0,247.8 233.3,250.4 233.6,252.5 233.9,251.2 234.2,254.3 234.4,253.4 234.5,252.7 234.8,256.1 235.1,253.9 235.4,257.0 235.7,255.8 236.0,257.8 236.3,256.4 236.6,257.7 236.9,261.0 236.9,259.8 237.2,260.0 237.5,259.8 237.8,261.3 238.1,259.3 238.4,260.1 238.7,261.7 239.0,261.2 239.3,261.8 239.6,263.0 239.9,263.3 240.1,263.4 240.2,265.9 240.5,265.3 240.8,265.8 241.1,264.4 241.4,264.1 241.7,263.1 242.0,264.7 242.3,263.1 242.6,264.9 242.9,266.9 243.2,268.2 243.5,267.6 243.8,265.5 244.1,267.5 244.2,265.9 244.4,268.1 244.7,267.0 245.0,268.4 245.3,269.8 245.6,268.8 245.9,270.1 246.2,268.1 246.5,267.6 246.8,269.9 247.1,270.6 247.4,267.8 247.7,268.7 248.0,266.9 248.2,268.6 248.3,270.1 248.6,268.8 248.9,268.2 249.2,267.2 249.5,269.5 249.8,270.1 250.1,269.9 250.4,269.5 250.7,267.6 251.0,271.5 251.3,269.2 251.6,269.1 251.9,270.3 252.2,267.1 252.5,269.3 252.8,269.3 253.1,270.0 253.4,271.3 253.7,270.2 253.9,267.3 254.0,269.2 254.3,270.0 254.6,270.0 254.9,268.3 255.2,267.9 255.5,270.8 255.8,270.7 256.1,270.3 256.4,268.2 256.7,272.8 257.0,268.3 257.3,270.2 257.6,273.1 257.9,270.7 258.2,271.3 258.5,269.6 258.8,273.0 258.8,269.5 259.1,271.6 259.4,271.6 259.7,270.1 260.0,272.7 260.3,269.8 260.6,270.9 260.9,271.8 261.2,271.4 261.5,272.7 261.8,273.3 262.1,271.9 262.4,271.6 262.7,271.8 263.0,272.1 263.3,273.7 263.6,272.4 263.9,273.3 264.2,272.8 264.5,271.9 264.5,274.1 264.8,271.7 265.1,273.2 265.4,275.2 265.7,271.9 266.0,273.3 266.3,271.4 266.6,272.9 266.9,271.7 267.2,273.2 267.5,273.1 267.8,274.0 268.1,276.0 268.4,274.3 268.7,274.9 269.0,274.1 269.3,273.9 269.6,273.2 269.9,272.0 270.1,274.5 270.2,276.5 270.5,275.0 270.8,273.7 271.1,276.6 271.4,273.9 271.7,273.7 272.0,272.9 272.3,273.3 272.6,274.2 272.9,276.9 273.2,274.3 273.5,273.3 273.8,273.8 274.1,274.3 274.4,272.4 274.7,274.8 275.0,275.6 275.3,275.1 275.6,275.5 275.9,273.1 276.2,272.5 276.5,276.4 276.8,276.2 277.1,272.8 277.4,275.1 277.7,274.9 278.0,275.6 278.3,275.1 278.6,274.2 278.7,275.2 278.9,275.1 279.2,274.8 279.5,272.5 279.8,272.4 280.1,273.7 280.4,272.6 280.7,275.0 281.0,275.6 281.3,274.9 281.6,274.1 281.9,274.6 282.2,276.0 282.5,273.5 282.8,275.6 283.1,275.3 283.4,274.7 283.7,276.2 284.0,273.3 284.3,275.5 284.6,273.0 284.9,273.2 285.2,272.8 285.5,274.7 285.8,272.8 286.1,274.1 286.4,272.5 286.4,275.4 286.7,276.0 287.0,273.7 287.3,275.2 287.6,273.5 287.6,275.1 287.9,272.6 288.2,270.0 288.5,273.6 288.8,271.1 288.8,270.0 289.1,271.0 289.4,270.3 289.7,272.7 290.0,272.1 290.0,275.4 290.3,274.5 290.6,271.6 290.9,272.0 291.2,273.4 291.5,271.9 291.8,274.3 291.8,274.3 292.1,273.4 292.4,273.7 292.7,275.1 293.0,276.4 293.3,276.5 293.6,274.6 293.9,275.7 294.2,273.7 294.5,275.2 294.8,273.4 295.1,275.6 295.4,273.1 295.7,273.5 296.0,274.8 296.3,275.5 296.6,273.0 296.9,274.2 297.2,275.1 297.3,275.2 297.5,273.7 297.8,274.9 298.1,274.3 298.4,276.4 298.7,275.2 299.0,272.7 299.3,272.0 299.6,274.3 299.9,275.7 300.2,274.3 300.5,275.1 300.8,273.2 301.1,272.0 301.4,274.6 301.7,273.7 302.0,274.4 302.3,271.6 302.6,273.6 302.9,272.4 303.2,274.2 303.5,272.3 303.8,272.2 304.1,272.1 304.4,274.4 304.7,272.7 305.0,271.6 305.3,271.2 305.6,271.1 305.9,274.2 306.0,270.0 306.2,271.2 306.5,273.3 306.8,274.1 307.1,272.4 307.4,273.7 307.7,273.8 308.0,274.1 308.3,273.0 308.6,275.2 308.9,273.4 309.2,275.2 309.5,271.9 309.8,274.6 310.1,271.8 310.4,271.6 310.7,274.3 311.0,272.6 311.3,274.4 311.6,272.5 311.9,276.1 312.2,274.1 312.5,272.7 312.8,274.5 313.1,275.5 313.4,273.4 313.6,275.1 313.7,276.8 314.0,275.7 314.3,274.6 314.6,273.9 314.9,275.4 315.2,272.7 315.5,272.3 315.8,273.9 316.1,273.4 316.4,277.2 316.7,275.1 316.9,273.7 317.0,273.5 317.3,275.9 317.6,274.4 317.9,275.0 318.2,275.8 318.5,276.3 318.8,276.5 319.1,276.8 319.4,278.6 319.7,279.3 320.0,275.2 320.2,279.7 320.3,277.7 320.6,279.2 320.9,276.7 321.2,278.1 321.5,278.0 321.8,278.0 322.1,279.0 322.4,278.7 322.7,276.7 323.0,277.9 323.3,279.0 323.6,279.0 323.9,277.8 324.2,277.9 324.5,278.1 324.8,277.0 325.1,276.8 325.4,280.5 325.7,278.1 326.0,278.7 326.3,277.7 326.6,280.4 326.9,281.0 327.2,278.6 327.5,279.6 327.8,278.0 328.1,281.3 328.4,280.3 328.7,278.1 329.0,280.8 329.3,279.7 329.6,279.9 329.9,279.8 330.0,278.5 330.2,278.7 330.5,280.3 330.8,279.5 331.1,278.4 331.4,281.9 331.7,279.5 332.0,279.1 332.3,278.9 332.6,280.8 332.9,281.2 333.2,280.3 333.5,281.2 333.6,278.1 333.8,279.6 334.1,279.4 334.4,280.0 334.7,280.6 335.0,277.5 335.3,282.1 335.6,278.7 335.9,280.2 336.2,280.8 336.5,280.8 336.8,280.0 337.1,277.2 337.4,278.1 337.7,280.5 338.0,278.3 338.3,278.1 338.6,277.0 338.7,280.9 338.9,279.9 339.2,278.0 339.5,278.9 339.8,278.8 340.1,277.3 340.4,278.3 340.7,278.9 341.0,279.1 341.3,279.9 341.6,278.2 341.9,277.4 342.2,278.4 342.5,277.0 342.8,276.0 343.1,279.0 343.1,277.0 343.4,277.5 343.7,278.0 344.0,275.5 344.3,277.5 344.6,277.1 344.9,276.2 345.2,276.6 345.5,274.9 345.8,273.3 346.1,275.1 346.4,274.1 346.7,276.2 347.0,275.2 347.3,274.0 347.5,274.6 347.6,276.1 347.9,275.3 348.2,273.7 348.5,273.3 348.8,271.8 349.1,271.5 349.4,271.6 349.7,270.5 350.0,270.1 350.3,269.4 350.4,269.3 350.6,269.2 350.9,269.7 351.2,271.1 351.5,271.6 351.8,269.6 352.1,269.1 352.4,272.5 352.7,272.4 353.0,270.3 353.3,273.8 353.3,272.6 353.6,274.5 353.9,273.6 354.2,274.7 354.5,274.3 354.8,273.0 355.1,274.4 355.4,274.1 355.7,276.5 356.0,274.5 356.2,274.0 356.3,277.0 356.6,277.8 356.9,278.4 357.2,278.1 357.5,275.0 357.8,276.2 358.1,276.6 358.4,277.5 358.7,275.4 359.0,277.9 359.3,278.5 359.6,277.1 359.8,278.7 359.9,280.0 360.2,278.4 360.5,279.6 360.8,279.5 361.1,278.6 361.4,278.5 361.7,277.4 362.0,279.4 362.3,277.0 362.6,276.6 362.7,278.4 362.9,276.3 363.2,277.3 363.5,277.7 363.8,276.0 364.1,275.6 364.4,276.2 364.7,275.5 364.9,272.2 365.0,272.5 365.3,276.0 365.6,274.8 365.9,272.0 366.2,272.7 366.5,274.5 366.8,273.2 367.1,275.2 367.4,274.7 367.7,275.3 368.0,273.2 368.3,275.6 368.6,277.1 368.9,273.8 369.2,276.6 369.5,276.2 369.8,275.8 370.0,274.9 370.1,273.5 370.4,274.0 370.7,276.2 371.0,276.6 371.3,277.0 371.6,276.8 371.9,276.8 372.2,275.1 372.5,274.2 372.8,276.1 373.1,276.6 373.4,276.2 373.7,274.2 374.0,275.6 374.3,274.4 374.6,276.6 374.9,275.1 375.0,276.3 375.2,277.1 375.5,277.0 375.8,278.8 376.1,275.8 376.4,275.0 376.7,278.8 377.0,279.6 377.3,279.8 377.6,278.5 377.9,279.0 378.2,278.6 378.5,277.0 378.8,278.1 379.1,279.7 379.4,278.4 379.7,281.7 380.0,277.6 380.3,279.2 380.3,281.2 380.6,278.9 380.9,278.2 381.2,277.9 381.5,278.6 381.8,281.5 382.1,280.1 382.4,280.2 382.7,278.8 383.0,280.5 383.3,279.5 383.6,278.1 383.9,278.7 384.2,279.5 384.5,280.7 384.8,279.1 385.1,279.8 385.4,281.4 385.7,278.0 386.0,277.4 386.0,280.3 386.3,279.5 386.6,278.7 386.9,279.1 387.2,278.2 387.5,279.2 387.8,277.9 388.1,279.3 388.4,276.6 388.7,277.0 389.0,278.1 389.3,277.2 389.6,278.6 389.9,277.5 390.2,276.8 390.5,277.6 390.8,276.6 391.1,275.1 391.4,275.6 391.7,275.9 391.9,276.2 392.0,277.0 392.3,278.3 392.6,278.0 392.9,279.7 393.2,279.3 393.5,277.6 393.8,280.2 394.1,279.7 394.4,277.8 394.7,279.0 395.0,280.2 395.3,279.2 395.6,280.4 395.9,279.8 396.0,280.3 396.2,279.0 396.5,280.0 396.8,279.1 397.1,280.6 397.4,277.6 397.7,280.3 398.0,281.6 398.3,280.8 398.6,280.1 398.9,280.9 399.2,279.2 399.5,279.3 399.8,280.0 400.1,280.3 400.4,281.9 400.7,279.5 401.0,282.1 401.3,278.8 401.6,279.9 401.9,281.0 402.2,282.6 402.5,280.4 402.8,278.9 403.1,281.9 403.4,281.4 403.7,280.1 404.0,280.3 404.1,280.8 404.3,281.8 404.6,282.6 404.9,279.9 405.2,284.1 405.5,281.8 405.8,281.4 406.1,282.8 406.4,282.1 406.7,284.3 407.0,283.5 407.3,281.6 407.6,281.7 407.9,281.6 408.2,281.8 408.5,283.2 408.8,281.5 409.1,284.5 409.4,282.3 409.7,282.3 410.0,283.7 410.3,280.1 410.6,281.4 410.9,283.4 411.2,282.7 411.5,282.7 411.8,283.3 412.1,282.0 412.4,282.6 412.7,281.1 413.0,280.5 413.2,284.6 413.3,281.7 413.6,282.0 413.9,284.7 414.2,284.3 414.5,282.2 414.8,282.2 415.1,282.8 415.4,281.6 415.7,283.6 416.0,283.0 416.3,283.0 416.6,283.8 416.9,283.7 417.2,285.1 417.5,284.7 417.8,280.5 418.1,283.9 418.4,281.3 418.7,280.9 419.0,283.6 419.3,281.8 419.6,282.3 419.9,284.0 420.2,281.8 420.5,281.5 420.8,283.0 421.1,284.2 421.4,283.3 421.7,280.6 422.0,281.7 422.3,282.4 422.3,284.8 422.6,283.7 422.9,283.5 423.2,284.0 423.5,281.9 423.8,282.9 424.1,282.9 424.4,280.9 424.7,282.1 425.0,282.8 425.3,280.6 425.6,283.0 425.9,282.9 426.2,283.2 426.5,280.8 426.8,281.9 427.1,283.6 427.4,282.7 427.7,280.5 428.0,281.8 428.3,283.3 428.6,281.3 428.9,281.9 429.2,283.6 429.5,281.2 429.5,281.1 429.8,280.0 430.1,280.6 430.4,283.4 430.7,281.4 431.0,280.1 431.3,280.5 431.6,281.8 431.9,282.9 432.2,281.0 432.5,283.0 432.8,281.5 433.1,282.7 433.4,283.0 433.7,283.2 434.0,281.9 434.3,282.4 434.6,283.3 434.9,281.1 435.2,283.1 435.5,283.6 435.8,284.3 435.9,283.0 436.1,282.8 436.4,283.3 436.7,282.3 437.0,283.0 437.3,283.9 437.6,283.8 437.9,282.2 438.2,283.2 438.5,281.3 438.8,284.8 439.1,283.1 439.4,284.2 439.7,282.5 440.0,283.9 440.3,284.7 440.6,285.5 440.9,282.5 441.2,285.4 441.5,284.2 441.8,283.5 442.1,285.2 442.4,284.2 442.7,284.3 443.0,283.9 443.3,285.1 443.6,285.0 443.9,284.8 444.2,283.8 444.5,284.5 444.8,285.7 445.0,286.9 445.1,285.2 445.4,287.1 445.7,285.3 446.0,283.9 446.3,286.2 446.6,284.1 446.9,285.9 447.2,286.8 447.5,285.0 447.8,285.4 448.1,287.9 448.4,285.8 448.7,285.9 449.0,286.6 449.3,285.4 449.6,285.5 449.9,286.1 450.2,283.3 450.5,287.5 450.8,284.3 451.1,284.3 451.4,286.4 451.7,285.8 452.0,284.1 452.3,286.1 452.6,284.3 452.9,284.9 453.2,283.9 453.5,284.8 453.8,286.4 454.1,286.1 454.4,286.3 454.7,287.2 455.0,285.9 455.0,285.1 455.3,285.6 455.6,288.1 455.9,286.0 456.2,286.4 456.5,285.9 456.8,286.3 457.1,286.5 457.4,286.0 457.7,285.8 458.0,285.0 458.3,284.9 458.6,286.5 458.9,287.0 459.2,287.2 459.5,286.1 459.8,284.9 460.1,286.8 460.4,286.8 460.7,284.1 461.0,287.0 461.3,286.8 461.6,288.2 461.9,284.6 462.2,284.4 462.5,287.0 462.8,283.7 463.1,285.1 463.4,284.6 463.7,284.7 464.0,283.7 464.3,285.7 464.6,287.3 464.9,286.6 465.2,286.6 465.5,285.6 465.8,287.9 466.1,286.7 466.4,287.4 466.7,284.0 467.0,286.5 467.3,284.6 467.6,286.5 467.9,286.3 468.2,284.6 468.5,286.3 468.8,287.6 469.1,286.7 469.4,286.8 469.7,285.0 470.0,285.2 470.3,284.6 470.6,286.3 470.9,287.6 471.2,286.6 471.5,286.1 471.8,284.6 472.1,286.7 472.4,285.8 472.7,283.8 473.0,283.9 473.3,285.7 473.6,284.9 473.7,288.2 473.9,286.2 474.2,284.8 474.5,285.5 474.8,288.2 475.1,284.9 475.4,287.2 475.7,286.7 476.0,288.1 476.3,286.9 476.6,285.7 476.9,286.9 477.2,286.3 477.5,287.5 477.8,286.2 478.1,288.6 478.4,286.1 478.7,286.8 479.0,285.4 479.3,286.4 479.6,286.3 479.9,286.5 480.2,287.5 480.5,285.6 480.8,285.2 481.1,287.8 481.4,286.0 481.7,285.5 482.0,287.9 482.3,287.4 482.6,284.0 482.9,285.9 483.2,287.4 483.5,287.5 483.8,285.8 484.1,288.5 484.4,285.4 484.7,286.2 485.0,286.6 485.3,286.5 485.6,287.5 485.9,287.8 486.2,286.5 486.5,288.3 486.8,285.6 487.1,286.3 487.4,288.8 487.7,286.7 488.0,287.9 488.3,286.0 488.6,286.2 488.9,286.5 489.2,286.8 489.5,286.2 489.8,286.6 490.1,287.5 490.4,288.2 490.7,286.8 491.0,287.5 491.3,287.9 491.6,285.3 491.9,284.7 492.2,288.8 492.5,288.4 492.8,286.8 493.1,287.2 493.4,285.5 493.4,285.0 493.7,287.2 494.0,284.9 494.3,288.0 494.6,285.9 494.9,287.2 495.2,289.2 495.5,289.2 495.8,286.6 496.1,288.3 496.4,285.6 496.7,286.2 497.0,287.5 497.3,288.8 497.6,286.3 497.9,287.8 498.2,287.2 498.5,285.5 498.8,286.9 499.1,289.1 499.4,287.0 499.7,287.8 500.0,288.3 500.3,286.3 500.6,288.8 500.9,289.2 501.2,289.3 501.5,289.0 501.8,286.7 502.1,286.6 502.4,286.3 502.7,286.2 503.0,286.4 503.3,288.7 503.6,289.3 503.9,286.6 504.2,288.5 504.5,285.9 504.8,287.1 505.1,286.3 505.4,285.5 505.7,287.7 506.0,287.7 506.3,287.1 506.6,287.0 506.9,286.4 507.2,287.5 507.5,286.9 507.8,288.0 508.1,286.2 508.4,288.1 508.7,288.4 509.0,289.4 509.3,289.2 509.6,288.1 509.9,287.0 510.2,285.5 510.5,287.9 510.6,289.7 510.8,290.1 511.1,285.6 511.4,287.0 511.7,287.5 512.0,286.6 512.3,288.2 512.6,288.1 512.9,287.4 513.2,288.0 513.5,286.0 513.8,286.8 514.1,286.9 514.4,289.3 514.7,286.0 515.0,287.9 515.3,289.2 515.6,288.1 515.9,289.2 516.2,287.4 516.5,288.8 516.8,289.4 517.1,290.6 517.4,289.2 517.7,290.1 518.0,288.3 518.3,288.4 518.6,290.4 518.9,289.1 519.2,290.2 519.5,289.3 519.8,290.7 520.1,290.7 520.4,287.3 520.7,290.8 521.0,289.0 521.3,289.1 521.6,288.4 521.9,289.5 522.2,287.1 522.5,287.6 522.8,287.6 523.1,289.0 523.4,289.8 523.7,289.6 524.0,289.1 524.3,287.9 524.6,286.4 524.9,289.2 525.2,288.9 525.5,289.2 525.8,290.6 526.1,288.5 526.4,288.5 526.7,286.4 527.0,289.5 527.3,288.8 527.6,287.9 527.9,289.4 528.2,287.5 528.5,288.2 528.8,291.2 529.1,289.9 529.4,290.1 529.7,289.9 530.0,289.8 530.3,289.2 530.6,291.3 530.9,288.9 531.2,290.0 531.5,288.8 531.8,288.6 532.1,286.7 532.4,286.7 532.7,291.1 533.0,291.0 533.3,288.6 533.3,289.1"/>
<rect x="58.7" y="8.9" width="474.60" height="351.10" fill="none" stroke="#111" stroke-width="1.6"/>
<g stroke="#111" stroke-width="1.3"><line x1="58.70" y1="360.0" x2="58.70" y2="366.7"/><line x1="88.36" y1="360.0" x2="88.36" y2="363.2"/><line x1="118.03" y1="360.0" x2="118.03" y2="366.7"/><line x1="147.69" y1="360.0" x2="147.69" y2="363.2"/><line x1="177.35" y1="360.0" x2="177.35" y2="366.7"/><line x1="207.01" y1="360.0" x2="207.01" y2="363.2"/><line x1="236.67" y1="360.0" x2="236.67" y2="366.7"/><line x1="266.34" y1="360.0" x2="266.34" y2="363.2"/><line x1="296.00" y1="360.0" x2="296.00" y2="366.7"/><line x1="325.66" y1="360.0" x2="325.66" y2="363.2"/><line x1="355.32" y1="360.0" x2="355.32" y2="366.7"/><line x1="384.99" y1="360.0" x2="384.99" y2="363.2"/><line x1="414.65" y1="360.0" x2="414.65" y2="366.7"/><line x1="444.31" y1="360.0" x2="444.31" y2="363.2"/><line x1="473.97" y1="360.0" x2="473.97" y2="366.7"/><line x1="503.64" y1="360.0" x2="503.64" y2="363.2"/><line x1="533.30" y1="360.0" x2="533.30" y2="366.7"/></g>
<g font-size="18.6" fill="#111" stroke="#111" stroke-width="0.25"><text x="58.70" y="386.8" text-anchor="middle">10</text><text x="118.03" y="386.8" text-anchor="middle">20</text><text x="177.35" y="386.8" text-anchor="middle">30</text><text x="236.67" y="386.8" text-anchor="middle">40</text><text x="296.00" y="386.8" text-anchor="middle">50</text><text x="355.32" y="386.8" text-anchor="middle">60</text><text x="414.65" y="386.8" text-anchor="middle">70</text><text x="473.97" y="386.8" text-anchor="middle">80</text><text x="533.30" y="386.8" text-anchor="middle">90</text></g>
<text x="196.1" y="416.0" font-size="29.2" fill="#111" stroke="#111" stroke-width="0.3">2Theta (degree)</text>
<text transform="translate(31.8,265.0) rotate(-90)" font-size="30.7" fill="#111" stroke="#111" stroke-width="0.3">Intentisy (a.u.)</text>
<text x="417" y="74.2" font-size="22.2" fill="#e8141c" stroke="#e8141c" stroke-width="0.3">NiCu(OH)<tspan font-size="13.8" dx="-0.8" dy="5.2">2</tspan></text>
<text x="415.3" y="177.7" font-size="21.95" fill="#1a1ad8" stroke="#1a1ad8" stroke-width="0.3">NiCuOOH-1</text>
<text x="415.3" y="256.2" font-size="21.95" fill="#111" stroke="#111" stroke-width="0.3">NiCuOOH-2</text>
<text x="434.3" y="309.5" font-size="15" fill="#222" stroke="#222" stroke-width="0.3">PDF 06-0141</text>
<text x="434.3" y="332.8" font-size="15" fill="#d82028" stroke="#d82028" stroke-width="0.3">PDF 14-0117</text>
</svg>
</body></html>
